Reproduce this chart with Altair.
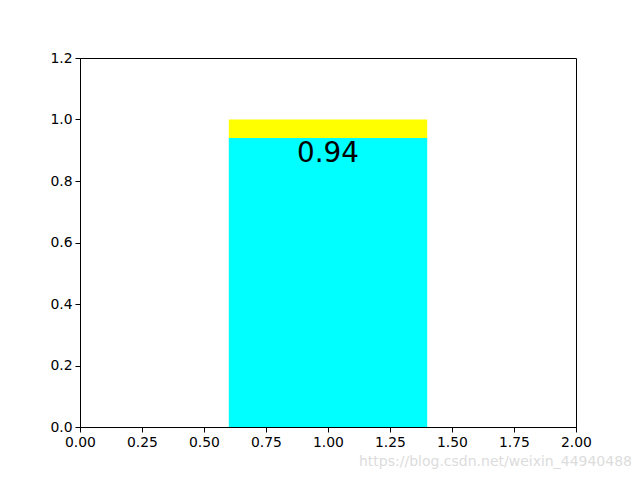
import altair as alt
import pandas as pd

# data
segments = ["value", "rest"]
x_start = [0.6, 0.6]
x_end = [1.4, 1.4]
y_bottom = [0.0, 0.94]
y_top = [0.94, 1.0]
colors = ["#00FFFF", "#FFFF00"]
label_text = ["0.94"]
label_x = [1.0]
label_y = [0.94]

df = pd.DataFrame({"seg": segments, "x0": x_start, "x1": x_end,
                   "y0": y_bottom, "y1": y_top, "color": colors})
lab = pd.DataFrame({"t": label_text, "x": label_x, "y": label_y})

font = "DejaVu Sans"
xs = alt.Scale(domain=[0, 2], nice=False, zero=False)
ys = alt.Scale(domain=[0, 1.2], nice=False, zero=False)

xaxis = alt.Axis(values=[0, 0.25, 0.5, 0.75, 1.0, 1.25, 1.5, 1.75, 2.0], format=".2f",
                 title=None, grid=False, domainColor="black", tickColor="black",
                 tickSize=5, labelFont=font, labelFontSize=13.9, labelColor="black",
                 labelPadding=3, labelFlush=False)
yaxis = alt.Axis(values=[0, 0.2, 0.4, 0.6, 0.8, 1.0, 1.2], format=".1f",
                 title=None, grid=False, domainColor="black", tickColor="black",
                 tickSize=5, labelFont=font, labelFontSize=13.9, labelColor="black",
                 labelPadding=3)

bars = alt.Chart(df).mark_rect().encode(
    x=alt.X("x0:Q", scale=xs, axis=xaxis),
    x2="x1:Q",
    y=alt.Y("y0:Q", scale=ys, axis=yaxis),
    y2="y1:Q",
    color=alt.Color("color:N", scale=None),
)

text = alt.Chart(lab).mark_text(font=font, fontSize=27.8, baseline="top",
                                align="center", color="black", dy=2).encode(
    x=alt.X("x:Q", scale=xs), y=alt.Y("y:Q", scale=ys), text="t:N")

wm = alt.Chart(pd.DataFrame({"t": ["https://blog.csdn.net/weixin_44940488"]})).mark_text(
    font=font, fontSize=14, align="right", baseline="middle", color="#dcdcdc").encode(
    x=alt.value(552), y=alt.value(404), text="t:N")

chart = alt.layer(bars, text, wm).properties(
    width=496, height=369,
    autosize=alt.AutoSizeParams(type="none"),
    padding={"left": 72, "top": 50, "right": 56, "bottom": 45},
    background="white",
).configure_view(stroke="black", strokeWidth=1)

chart.save("out.html", embed_options={"renderer": "svg", "actions": False})
